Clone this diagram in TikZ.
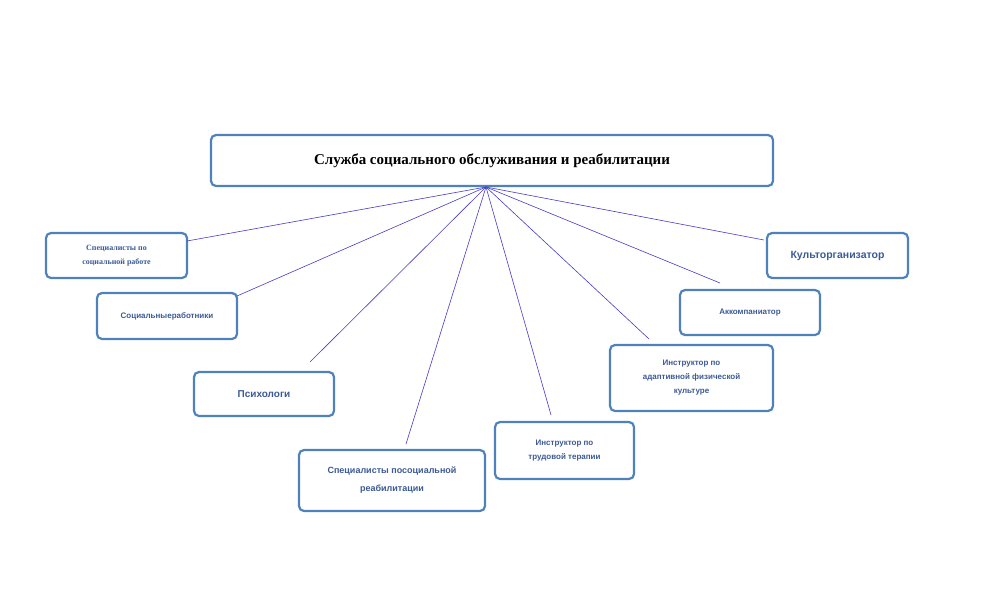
\documentclass[tikz,border=0pt]{standalone}
\usepackage{fontspec}
\setmainfont{Liberation Serif}
\newfontfamily\boxfont{Liberation Sans}
\definecolor{bord}{RGB}{79,129,189}
\definecolor{txt}{RGB}{60,90,150}
\definecolor{ln}{RGB}{70,60,200}
\begin{document}
\begin{tikzpicture}[x=1pt,y=-1pt,
  box/.style={draw=bord,line width=2.2pt,rounded corners=5pt,fill=white,align=center,inner sep=0pt,
    font=\boxfont\bfseries\fontsize{8}{14}\selectfont,text=txt},
  conn/.style={draw=ln,line width=0.6pt}]
\useasboundingbox (0,0) rectangle (1000,613);
\node[box,minimum width=562,minimum height=51,text=black,font=\bfseries\fontsize{15}{18}\selectfont] (main) at (492,160.5) {Служба социального обслуживания и реабилитации};
\coordinate (hub) at (486,187);
\node[box,minimum width=141,minimum height=45,font=\bfseries\fontsize{8}{14}\selectfont] (a) at (116.5,255.5) {Специалисты по\\социальной работе};
\node[box,minimum width=140,minimum height=46] (b) at (167,316) {Социальныеработники};
\node[box,minimum width=140,minimum height=44,font=\boxfont\bfseries\fontsize{10}{14}\selectfont] (c) at (264,394) {Психологи};
\node[box,minimum width=186,minimum height=61,font=\boxfont\bfseries\fontsize{9}{18}\selectfont] (d) at (392,480.5) {Специалисты посоциальной\\реабилитации};
\node[box,minimum width=139,minimum height=57] (e) at (564.5,450.5) {Инструктор по\\трудовой терапии};
\node[box,minimum width=163,minimum height=66] (f) at (691.5,378) {Инструктор по\\адаптивной физической\\культуре};
\node[box,minimum width=140,minimum height=45] (g) at (750,312.5) {Аккомпаниатор};
\node[box,minimum width=141,minimum height=45,font=\boxfont\bfseries\fontsize{10.5}{14}\selectfont] (h) at (837.5,255.5) {Культорганизатор};
\coordinate (ea) at (187,241);
\coordinate (eb) at (237,296);
\coordinate (ec) at (310,362);
\coordinate (ed) at (406,444);
\coordinate (ee) at (551,415);
\coordinate (ef) at (649,339);
\coordinate (eg) at (720,283);
\coordinate (eh) at (764,240);
\foreach \e in {ea,eb,ec,ed,ee,ef,eg,eh} \draw[conn] (hub) -- (\e);
\end{tikzpicture}
\end{document}
